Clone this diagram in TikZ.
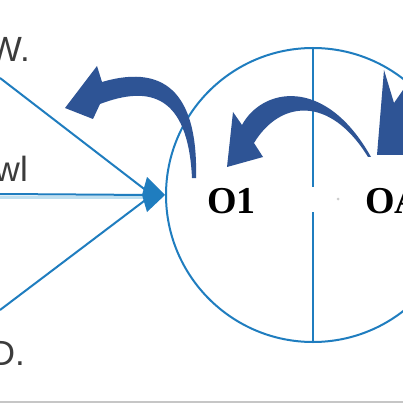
\documentclass[tikz,border=0pt]{standalone}
\usepackage{fontspec}
\setmainfont{Liberation Serif}
\setsansfont{Liberation Sans}
\definecolor{lineblue}{HTML}{1F7DBF}
\definecolor{arrowblue}{HTML}{2E5495}
\definecolor{shadeblue}{HTML}{BEDFF0}
\definecolor{labelgray}{HTML}{3C3C3C}
\begin{document}
\begin{tikzpicture}[x=1pt,y=-1pt,
  conn/.style={draw=lineblue, line width=2pt},
  bigarrow/.style={fill=arrowblue, draw=none},
  inlabel/.style={font=\sffamily\fontsize{35}{35}\selectfont, text=labelgray, inner sep=0pt, anchor=base east},
  olabel/.style={font=\bfseries\fontsize{38}{38}\selectfont, text=black, inner sep=0pt, anchor=base west}]
\useasboundingbox (0,0) rectangle (403,403);
\clip (0,0) rectangle (403,403);
\fill[white] (0,0) rectangle (403,403);
\draw[gray!45, line width=2pt] (0,402) -- (403,402);

\coordinate (C) at (313,195);
\coordinate (J) at (152,195);
\coordinate (i1) at (0,78);
\coordinate (i2) at (0,194);
\coordinate (i3) at (0,310);
\coordinate (vtop) at (313,48);
\coordinate (vgapT) at (313,187);
\coordinate (vgapB) at (313,212);
\coordinate (vbot) at (313,342);

% neuron circle and divider
\draw[conn] (C) circle[radius=147];
\draw[conn] (vtop) -- (vgapT);
\draw[conn] (vgapB) -- (vbot);
\fill[gray!40] (338,199) circle[radius=1.5];

% inputs
\draw[shadeblue, line width=3pt] (0,197.5) -- (146,197.5);
\draw[conn] (i1) -- (J);
\draw[conn] (i2) -- (J);
\draw[conn] (i3) -- (J);
\fill[lineblue] (165,195) -- (147,177) -- (142,195) -- (147,212) -- cycle;

% labels
\node[inlabel] (lw1) at (30,62) {W.};
\node[inlabel] (lw2) at (28,182) {wl};
\node[inlabel] (lw3) at (25,365) {D.};
\node[olabel] (o1) at (207,213) {O1};
\node[olabel] (oa) at (365,213) {OA};

% curved arrows
\fill[bigarrow] (196,178) .. controls (198,100) and (170,62) .. (102,82)
  -- (97,66) -- (65,108) -- (93,119) -- (100,104)
  .. controls (150,85) and (188,95) .. (192,178) -- cycle;
\fill[bigarrow] (371,157) .. controls (325,75) and (262,88) .. (242,125)
  -- (233,112) -- (227,167) -- (263,157) -- (254,143)
  .. controls (280,100) and (330,95) .. (368,157) -- cycle;
\fill[bigarrow] (384,70) -- (377,155) -- (403,155) -- (403,90) -- (394,103) -- cycle;
\end{tikzpicture}
\end{document}
